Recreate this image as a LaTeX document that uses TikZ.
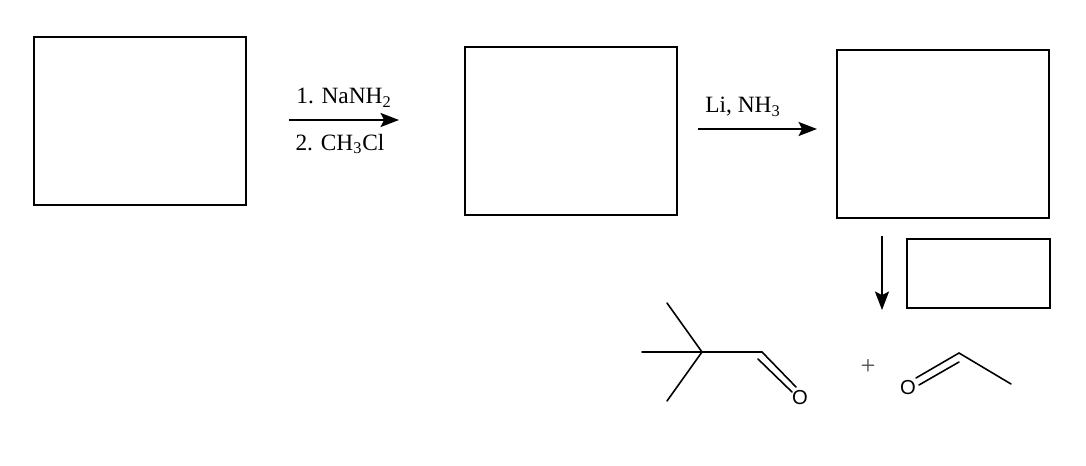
\documentclass[tikz,border=0pt]{standalone}
\usepackage{fontspec}
\setmainfont{Liberation Serif}
\newfontfamily\atomfont{Liberation Sans}
\usetikzlibrary{arrows.meta}
\tikzset{
  blank/.style={draw,line width=0.9pt,inner sep=0pt,outer sep=0pt},
  bond/.style={line width=0.9pt,line cap=round},
  rxn/.style={-{Stealth[length=10.5pt,width=8pt,inset=2pt]},line width=1pt},
  reagent/.style={inner sep=0pt,font=\fontsize{13.3pt}{15pt}\selectfont},
  atom/.style={inner sep=0pt,font=\atomfont\fontsize{11.5pt}{13pt}\selectfont}
}
\begin{document}
\begin{tikzpicture}[x=0.02cm,y=-0.02cm]
      \useasboundingbox (0,0) rectangle (1086,466);
      % answer boxes
      \node[blank,minimum width=4.24cm,minimum height=3.36cm] (boxa) at (140,121) {};
      \node[blank,minimum width=4.24cm,minimum height=3.36cm] (boxb) at (571,131) {};
      \node[blank,minimum width=4.24cm,minimum height=3.36cm] (boxc) at (943,134) {};
      \node[blank,minimum width=2.86cm,minimum height=1.38cm] (boxd) at (978.5,273.5) {};
      % reaction arrows
      \coordinate (arra) at (289,120);
      \coordinate (arrb) at (399,120);
      \coordinate (arrc) at (698,129);
      \coordinate (arrd) at (817,129);
      \coordinate (arre) at (882,236);
      \coordinate (arrf) at (882,310);
      \draw[rxn] (arra) -- (arrb);
      \draw[rxn] (arrc) -- (arrd);
      \draw[rxn] (arre) -- (arrf);
      \node[reagent] (stepone) at (344,98) {1. NaNH\textsubscript{2}};
      \node[reagent] (steptwo) at (340,144) {2. CH\textsubscript{3}Cl};
      \node[reagent] (lithium) at (743,107) {Li, NH\textsubscript{3}};
      % pivaldehyde
      \coordinate (quat) at (702,352);
      \coordinate (metha) at (667,303);
      \coordinate (methb) at (642,352);
      \coordinate (methc) at (667,401);
      \coordinate (cho) at (762,352);
      \coordinate (choin) at (758,359);
      \coordinate (oxa) at (796,387);
      \coordinate (oxb) at (792,392);
      \node[atom] (oxyl) at (800,398) {O};
      \draw[bond] (quat) -- (metha);
      \draw[bond] (quat) -- (methb);
      \draw[bond] (quat) -- (methc);
      \draw[bond] (quat) -- (cho);
      \draw[bond] (cho) -- (oxa);
      \draw[bond] (choin) -- (oxb);
      % plus sign
      \node[inner sep=0pt,text=black!70,font=\fontsize{15pt}{16pt}\selectfont] (plus) at (868,367) {+};
      % acetaldehyde
      \coordinate (acet) at (959,353);
      \coordinate (acetin) at (959,362);
      \coordinate (acme) at (1011,384);
      \coordinate (oxc) at (916,378);
      \coordinate (oxd) at (919,385);
      \node[atom] (oxyr) at (908,388) {O};
      \draw[bond] (acet) -- (acme);
      \draw[bond] (acet) -- (oxc);
      \draw[bond] (acetin) -- (oxd);
\end{tikzpicture}
\end{document}
